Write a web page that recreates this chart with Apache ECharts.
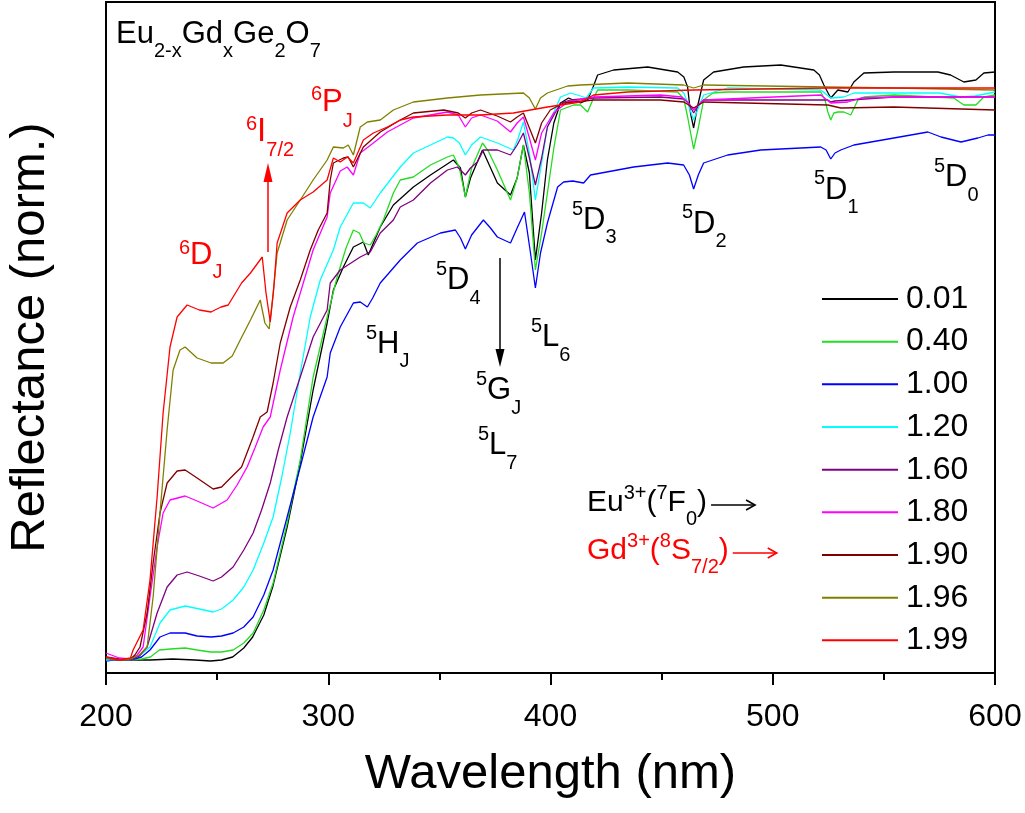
<!DOCTYPE html>
<html><head><meta charset="utf-8">
<script src="https://cdn.jsdelivr.net/npm/echarts@6/dist/echarts.min.js"></script>
<style>html,body{margin:0;padding:0;background:#fff}#c{width:1025px;height:813px}</style>
</head><body><div id="c"></div>
<script>
// Wavelength (nm) / normalized reflectance pairs
const names = ['0.01','0.40','1.00','1.20','1.60','1.80','1.90','1.96','1.99'];
const colors = ['#000000','#22dd22','#0000ff','#00ffff','#800080','#ff00ff','#800000','#808000','#ff0000'];

const s001 = [[200,1.4],[206,1.3],[211,1.3],[220,1.3],[230,1.4],[240,1.3],[247,1.2],[252,1.3],[257,1.6],[262,2.5],[266,3.6],[271,5.8],[275,8.6],[281.5,14.6],[287.4,21.0],[293.2,28.3],[299.5,35.0],[302.3,38.3],[306.8,40.6],[311.3,42.6],[315.8,43.1],[318,41.8],[323.4,44.6],[329.3,46.8],[338.3,48.6],[346,49.8],[356.3,51.3],[359.5,50.5],[361.7,47.6],[364,49.5],[369.4,52.3],[376.1,49.0],[382,47.8],[385,49.5],[387.8,52.8],[390.5,50],[393.2,41.3],[396,46],[398.6,51.3],[401.5,55],[404.5,57.0],[408.1,57.5],[413.5,57.0],[416.7,57.3],[419,58.5],[421.2,59.8],[428.4,60.3],[443.7,60.6],[457.2,60.1],[460,59.6],[461.7,58.6],[463,56],[464.4,54.5],[466,56.5],[468.9,59.3],[473.4,60.1],[486.9,60.6],[503.6,60.8],[518.5,60.3],[521,59.8],[523,58.8],[526.1,57.5],[529.3,58.3],[533.8,58.1],[536.5,59.1],[541,60.0],[554.5,60.1],[574.3,60.1],[580,59.8],[586,59.1],[591.4,59.3],[595,60.0],[600,60.1]];
const s040 = [[200,1.5],[206,1.3],[211,1.3],[216,1.4],[220,1.6],[224,2.3],[229,2.4],[235.6,2.5],[241,2.3],[247,2.1],[252,2.1],[257.2,2.3],[262,3.0],[266.2,4.0],[271,6.3],[275.2,9.0],[281.5,15.0],[287.4,21.3],[293.2,29.6],[299.5,35.6],[304,39.6],[308,42.5],[311.3,44.3],[314,44.0],[316,43],[318.9,42.8],[321.5,43.8],[324.8,45.3],[329.3,48.0],[332.4,49.3],[338.3,49.6],[346,50.8],[353.6,51.6],[356.3,51.8],[359,50.5],[361.7,47.6],[364.5,50.5],[369.4,53.0],[372,52.2],[376.1,50.3],[382,47.3],[385,49.5],[387.8,52.8],[390.5,48],[393.2,40.3],[396,44],[398.6,48.0],[401.5,52.5],[404.5,56.3],[410.4,56.8],[413.5,56.8],[416.7,56.1],[419,57.3],[421.2,58.3],[434.7,58.3],[457.2,58.1],[460,57.4],[461.7,55.6],[464.4,52.4],[466.5,54.5],[468.9,57.3],[473,58.0],[479.7,58.1],[521.6,58.1],[523.5,57.3],[524.8,56.1],[526.1,55.3],[527.5,56.0],[529.3,56.1],[532,56.1],[535.1,55.8],[538.3,57.3],[541,57.6],[554.5,57.8],[581.5,57.5],[584,57.1],[586,56.8],[591.4,56.8],[595,57.6],[600,57.8]];
const s100 = [[200,1.2],[206,1.4],[211,1.3],[216,1.6],[219.8,2.3],[224.3,3.6],[228.8,4.0],[235.6,4.0],[241,3.7],[247.3,3.6],[252,3.7],[257.2,4.0],[262,4.6],[266.2,5.6],[271,7.8],[275.2,10.3],[281.5,15.6],[287.4,20.6],[293.2,25.6],[299.5,29.6],[300.9,32.0],[305.4,34.6],[311.3,37.0],[314.4,37.1],[317.6,36.6],[320,37.5],[323.4,39.0],[332.4,41.3],[340.1,43.0],[350.5,44.0],[357.2,44.3],[359.5,43.5],[361.7,42.4],[364.5,43.8],[369.8,45.3],[373,44.5],[376.1,43.6],[382,43.0],[385,44.5],[388.3,46.1],[391,42],[393.2,38.5],[395.5,42],[398.6,45.0],[403.2,48.6],[405.9,49.1],[410,49.2],[414.9,49.0],[418,49.8],[437.4,50.6],[452.7,51.0],[459.9,50.8],[462.5,49.8],[464.4,48.4],[466.5,49.8],[468.9,51.0],[479.7,51.8],[494.6,52.3],[521.6,52.6],[524,52.3],[526.1,51.4],[528,52.0],[530.6,52.3],[536.5,52.8],[554.5,53.5],[569.8,54.1],[575.7,53.6],[584.7,53.1],[592.3,53.5],[596.8,53.8],[600,53.8]];
const s120 = [[200,1.3],[206,1.4],[211,1.3],[215.5,1.8],[219.8,2.6],[224.3,5.0],[228.8,6.3],[235.6,6.7],[242,6.4],[248.2,6.1],[252,6.4],[257.2,7.3],[262,8.6],[266.2,10.3],[271,13.0],[275.2,15.6],[279,19.5],[282.9,24.0],[287.4,30.0],[291.9,35.6],[296.4,39.3],[302.3,42.3],[305.4,44.6],[311.3,47.0],[315.8,47.0],[318.9,46.5],[323.4,48.0],[327.9,49.3],[332.4,50.6],[338.3,52.0],[346,52.8],[353.6,53.6],[356.3,53.5],[359,53],[361.7,51.8],[364.5,52.8],[368.5,53.6],[376.1,53.0],[383.3,52.3],[385.5,53.5],[387.8,55.1],[390.5,52],[393.2,47.3],[396,51],[398.6,54.6],[404.5,57.6],[409,58.0],[413.5,57.7],[416,57.5],[419.4,58.5],[434.7,58.6],[457.2,58.5],[460,58.0],[461.7,57.0],[464.4,55.3],[466.5,56.5],[468.9,57.8],[479.7,58.5],[521.6,58.3],[526.1,57.5],[532,57.6],[536.5,58.0],[554.5,58.0],[575,58.0],[584.7,57.6],[591,57.7],[600,58.1]];
const s160 = [[200,1.6],[206,1.4],[211,1.3],[215,1.7],[218.5,2.6],[223,6.0],[227.5,8.6],[232,9.8],[236.5,10.1],[242,9.7],[248.2,9.2],[252,9.6],[257.2,10.6],[262,12.3],[266.2,14.0],[270,16.3],[273.9,19.0],[277.5,22.3],[281.5,25.6],[287.4,29.6],[293.2,33.6],[299.5,36.3],[300.9,39.0],[305.4,40.3],[314.4,41.6],[318.9,42.1],[323.4,44.0],[329.3,45.3],[332.4,46.6],[338.3,47.3],[346,49.0],[353.6,50.3],[358.1,50.6],[361.7,49.8],[364,50.5],[367.1,51.1],[369.8,52.3],[376.1,52.3],[382,51.8],[385,52.8],[387.8,54.0],[390.5,51.5],[393.2,48.8],[396,51.5],[398.6,54.6],[404.5,57.0],[409,57.3],[419.4,57.5],[449.5,57.6],[460,57.4],[462,57],[464.4,56.0],[466.5,56.8],[468.9,57.3],[524.8,57.3],[526.1,57.1],[528,57.2],[554.5,57.6],[600,57.6]];
const s180 = [[200,2.0],[206,1.5],[211,1.4],[214,1.8],[216.7,2.6],[219.8,7.6],[223,12.6],[225.7,16.0],[228.8,17.3],[235.6,17.7],[241,17.2],[248.2,16.5],[254.5,17.3],[259,18.8],[263.5,20.6],[267,22.5],[270.7,24.6],[273.9,25.6],[278.4,30.3],[284.2,35.6],[288.5,38.8],[293.2,42.3],[299.5,45.6],[300.9,48.0],[305.4,50.2],[308.5,50.6],[311.3,49.8],[314.4,52.0],[320.3,53.0],[326.6,54.1],[332.4,54.8],[338.3,55.5],[353.6,56.1],[358.5,55.8],[361.7,54.6],[364.5,55.5],[368.5,55.8],[376,55.2],[382,54.1],[385,55],[387.8,55.6],[390.5,53.5],[393.2,51.3],[396,54],[401.4,56.0],[407.7,57.1],[419.4,57.6],[449.5,57.8],[459,57.6],[461.7,57.1],[464.4,56.3],[466.5,56.8],[468.9,57.3],[521.6,57.8],[526.1,57.0],[533.8,57.1],[539.6,57.5],[554.5,57.6],[600,57.6]];
const s190 = [[200,1.5],[206,1.3],[211,1.4],[213,1.8],[215.3,2.6],[218.5,6.0],[221.2,11.0],[224.3,16.0],[227.5,19.0],[232,20.2],[235.6,20.3],[241,19.5],[248.2,18.4],[252,18.6],[256,19.5],[261,20.6],[266,23.5],[269.4,25.6],[272.5,26.1],[275.2,29.0],[278.4,33.0],[282.9,36.6],[287.4,39.3],[291.9,42.3],[295.5,44.3],[299.5,46.0],[300.9,49.3],[302.3,51.0],[306.8,51.5],[309,51.6],[311.3,50.6],[315.8,52.6],[323.4,54.1],[332.4,55.3],[338.3,56.0],[352,56.3],[358.5,56.0],[361.7,55.5],[364.5,56.0],[368.5,56.3],[376,55.7],[382,55.1],[385,55.6],[387.8,56.0],[390.5,54.5],[393.2,53.0],[396,55],[399.9,56.3],[405.9,57.0],[419.4,57.3],[449.5,57.3],[460,57.1],[464.4,56.5],[468.9,57.1],[524.8,56.8],[530.6,56.5],[554.5,56.6],[600,56.3]];
const s196 = [[200,1.5],[206,1.3],[211,1.4],[215,1.8],[218.5,2.6],[221.2,7.6],[224.3,16.0],[227.5,24.3],[230.2,30.3],[233.3,32.3],[235.6,32.6],[241,31.5],[247.3,31.0],[252.7,31.0],[256.8,31.7],[260.4,33.3],[265,35.3],[269.4,37.3],[271.5,35],[273.4,34.4],[275,37.5],[277,42.0],[281.5,45.3],[287.4,47.3],[293.2,49.3],[299.5,51.3],[302.3,52.6],[306.8,52.5],[309,52.8],[311.3,51.8],[314.4,54.6],[317.6,55.1],[323.4,55.3],[329.3,56.3],[338.3,57.1],[353.6,57.5],[368.5,57.8],[387.8,58.0],[390.5,57.5],[393.2,56.4],[395.5,57.5],[398.6,58.0],[407.7,58.7],[413.5,58.8],[434.7,59.0],[459.9,58.8],[464.4,58.5],[468.9,58.8],[524.8,58.6],[554.5,58.5],[600,58.3]];
const s199 = [[200,1.6],[206,1.3],[211,1.5],[212.2,2.3],[216.7,4.3],[219.8,9.3],[223,17.6],[225.7,26.0],[228.8,32.6],[232,35.6],[236.5,36.8],[242,36.3],[247.3,36.1],[249,36.3],[251.8,36.6],[255,36.8],[261,39.0],[265,40.0],[270.3,41.6],[272,38],[273.9,35.1],[275.5,38.5],[277,43.0],[281.5,46.0],[287.4,47.3],[293.2,48.1],[299.5,49.3],[302.3,51.5],[305.4,51.1],[308.6,51.6],[311.3,51.0],[315.8,53.3],[320.3,54.0],[326.6,54.6],[332.4,55.3],[338.3,55.6],[353.6,55.8],[368.5,55.8],[383.3,56.0],[398.6,56.6],[413.5,57.1],[419.4,57.8],[434.7,58.1],[464.4,58.3],[524.8,58.5],[600,58.5]];
const seriesData = [s001,s040,s100,s120,s160,s180,s190,s196,s199];

const xTicks = {min:200, max:600, interval:100};
const FF = 'Liberation Sans, Arial, sans-serif';

const mctx = document.createElement('canvas').getContext('2d');
function tw(t, fs){ mctx.font = fs + 'px ' + FF; return mctx.measureText(t).width; }
// parts: [kind, text]; kind = b (main), sup, sub. y = vertical centre of main glyphs
function lab(parts, x, y, color, ms, ss, supOff, subOff, arrowLen){
  let cx = x; const els = [];
  parts.forEach(p => {
    const k = p[0], t = p[1];
    const fs = k === 'b' ? ms : ss;
    const dy = k === 'sup' ? -supOff : (k === 'sub' ? subOff : 0);
    els.push({type:'text', x:cx, y:y + dy, z:100,
      style:{text:t, fontSize:fs, fontFamily:FF, fill:color, verticalAlign:'middle', align:'left'}});
    cx += tw(t, fs);
  });
  if (arrowLen) {
    const x1 = cx + 4, x2 = cx + 4 + arrowLen, ay = y + 2;
    els.push({type:'line', z:100, shape:{x1:x1, y1:ay, x2:x2, y2:ay}, style:{stroke:color, lineWidth:1.6}});
    els.push({type:'polyline', z:100, shape:{points:[[x2-9,ay-5],[x2,ay],[x2-9,ay+5]]}, style:{stroke:color, lineWidth:1.6, fill:null}});
  }
  return els;
}

const chart = echarts.init(document.getElementById('c'));
chart.setOption({
  animation:false,
  backgroundColor:'#fff',
  grid:{left:106, right:30, top:2, bottom:140, show:true, borderColor:'#000', borderWidth:2, outerBoundsMode:'none', containLabel:false},
  legend:{orient:'vertical', left:822, top:283, padding:0, itemWidth:76, itemHeight:2, itemGap:10.67, icon:'rect',
    textStyle:{fontSize:32, lineHeight:32, color:'#000', fontFamily:FF, padding:[0,0,0,3]}, data:names},
  xAxis:{type:'value', min:xTicks.min, max:xTicks.max, interval:xTicks.interval,
    axisLine:{lineStyle:{color:'#000', width:2}},
    axisTick:{inside:false, length:12, lineStyle:{color:'#000', width:2}},
    minorTick:{show:true, splitNumber:2, length:7, lineStyle:{color:'#000', width:2}},
    splitLine:{show:false}, minorSplitLine:{show:false},
    axisLabel:{fontSize:32, color:'#000', margin:28, fontFamily:FF},
    name:'Wavelength (nm)', nameLocation:'middle', nameGap:77, nameMoveOverlap:false,
    nameTextStyle:{fontSize:49, color:'#000', fontFamily:FF}},
  yAxis:{type:'value', min:0, max:67.1,
    axisLine:{show:true, lineStyle:{color:'#000', width:2}},
    axisTick:{show:false}, axisLabel:{show:false}, splitLine:{show:false},
    name:'Reflectance (norm.)', nameLocation:'middle', nameGap:51, nameMoveOverlap:false,
    nameTextStyle:{fontSize:49, color:'#000', fontFamily:FF}},
  series: names.map((n,i)=>({name:n, type:'line', data:seriesData[i], showSymbol:false, symbol:'none',
    color:colors[i], lineStyle:{width:1.3, color:colors[i]}, itemStyle:{color:colors[i]}})),
  graphic:[].concat(
    lab([['b','Eu'],['sub','2-x'],['b','Gd'],['sub','x'],['b','Ge'],['sub','2'],['b','O'],['sub','7']], 116, 34, '#000', 31, 20, 10, 17),
    lab([['sup','6'],['b','D'],['sub','J']], 179, 255, '#ff0000', 31, 20, 7, 17),
    lab([['sup','6'],['b','I'],['sub','7/2']], 246, 132, '#ff0000', 33, 20, 8, 18),
    lab([['sup','6'],['b','P'],['sub','J']], 311, 102, '#ff0000', 31, 20, 8, 19),
    lab([['sup','5'],['b','H'],['sub','J']], 366, 344, '#000', 31, 20, 11, 17),
    lab([['sup','5'],['b','D'],['sub','4']], 436, 280, '#000', 31, 20, 11, 18),
    lab([['sup','5'],['b','G'],['sub','J']], 476, 390, '#000', 31, 20, 11, 18),
    lab([['sup','5'],['b','L'],['sub','7']], 478, 445, '#000', 31, 20, 11, 18),
    lab([['sup','5'],['b','L'],['sub','6']], 531, 337, '#000', 31, 20, 11, 18),
    lab([['sup','5'],['b','D'],['sub','3']], 572, 220, '#000', 31, 20, 11, 17),
    lab([['sup','5'],['b','D'],['sub','2']], 682, 224, '#000', 31, 20, 12, 17),
    lab([['sup','5'],['b','D'],['sub','1']], 814, 190, '#000', 31, 20, 12, 17),
    lab([['sup','5'],['b','D'],['sub','0']], 934, 177, '#000', 31, 20, 11, 18),
    lab([['b','Eu'],['sup','3+'],['b','('],['sup','7'],['b','F'],['sub','0'],['b',')']], 587, 503, '#000', 30, 20, 10, 16, 44),
    lab([['b','Gd'],['sup','3+'],['b','('],['sup','8'],['b','S'],['sub','7/2'],['b',')']], 587, 551, '#ff0000', 30, 20, 10, 16, 44),
    [
      {type:'line', z:100, shape:{x1:268, y1:252, x2:268, y2:178}, style:{stroke:'#ff0000', lineWidth:1.5}},
      {type:'polygon', z:100, shape:{points:[[268,163],[263.5,182],[272.5,182]]}, style:{fill:'#ff0000'}},
      {type:'line', z:100, shape:{x1:500, y1:258, x2:500, y2:352}, style:{stroke:'#000', lineWidth:1.5}},
      {type:'polygon', z:100, shape:{points:[[500,367],[495.5,349],[504.5,349]]}, style:{fill:'#000'}}
    ]
  )
});
</script></body></html>
